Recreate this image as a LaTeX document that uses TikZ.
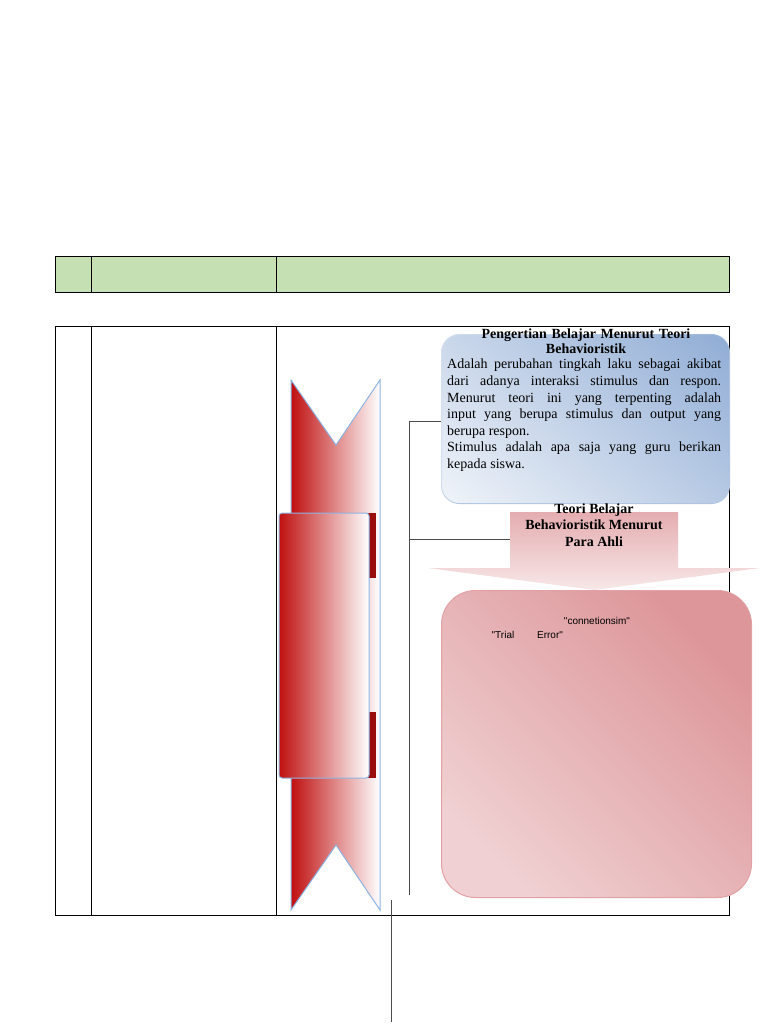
\documentclass[tikz,border=0pt]{standalone}
\usepackage{fontspec}
\setmainfont{Liberation Serif}
\newfontfamily\arialf{Liberation Sans}
\definecolor{hdr}{HTML}{C5E0B3}
\definecolor{rib}{HTML}{C01010}
\definecolor{ribedge}{HTML}{8EB4E3}
\definecolor{bluebox}{HTML}{7FA0CF}
\definecolor{pinkbox}{HTML}{D98A8E}
\newcommand{\sline}[1]{\makebox[274pt][s]{#1}}
\tikzset{
  grid/.style={draw=black, line width=0.6pt},
  conn/.style={draw=black!70, line width=0.8pt},
  ribbon/.style={left color=rib, right color=white, draw=ribedge, line width=1pt},
  smalltxt/.style={font=\arialf\fontsize{10}{11}\selectfont},
}
\begin{document}
\begin{tikzpicture}[x=1pt,y=-1pt]
\useasboundingbox (0,0) rectangle (768,1024);
% header row
\path[grid, fill=hdr] (55,256) rectangle (729,292);
\draw[grid] (91,256) -- (91,292) (276,256) -- (276,292);
% body
\draw[grid] (55,326) rectangle (729,915);
\draw[grid] (91,326) -- (91,915) (276,326) -- (276,915);
% ribbon back strip
\path[ribbon] (291,380) -- (336,445) -- (380,380) -- (380,910) -- (336,845) -- (291,910) -- cycle;
% folds
\fill[rib!80!black] (364,513) rectangle (376,578);
\fill[rib!80!black] (364,712) rectangle (376,778);
% ribbon front
\path[ribbon, rounded corners=3] (279,513) rectangle (369,778);
% connectors
\coordinate (v1) at (409,421); \coordinate (v2) at (409,895);
\coordinate (h2) at (409,539);
\coordinate (l1) at (391,900); \coordinate (l2) at (391,1022);
% blue box
\node[draw=bluebox!60, line width=1pt, rounded corners=18, minimum width=288, minimum height=169, anchor=north west,
  top color=bluebox!75!white, bottom color=white!80!bluebox,
  inner sep=0] (blue) at (441,334) {};
\shade[rounded corners=18, left color=white, right color=bluebox, opacity=0.45] (441,334) rectangle (729,503);
\draw[conn] (blue.west |- v1) -- (v1) -- (v2);
\draw[conn] (l1) -- (l2);
\node[font=\bfseries\fontsize{14}{15}\selectfont, align=center, text width=280] (bt) at (586,341) {Pengertian Belajar Menurut Teori\\Behavioristik};
\node[font=\fontsize{14}{16.6}\selectfont, align=left, anchor=north west, inner sep=0] (btx) at (447,359)
{\sline{Adalah perubahan tingkah laku sebagai akibat}\\
 \sline{dari adanya interaksi stimulus dan respon.}\\
 \sline{Menurut teori ini yang terpenting adalah}\\
 \sline{input yang berupa stimulus dan output yang}\\
 berupa respon.\\
 \sline{Stimulus adalah apa saja yang guru berikan}\\
 kepada siswa.};
% arrow
\path[top color=pinkbox!70!white, bottom color=pinkbox!20!white] (510,512) -- (678,512) -- (678,568) -- (760,568) -- (594,590) -- (428,568) -- (510,568) -- cycle;
\coordinate (arrw) at (510,539);
\draw[conn] (h2) -- (arrw);
\node[font=\bfseries\fontsize{14}{16.5}\selectfont, align=center] (at) at (594,525) {Teori Belajar\\Behavioristik Menurut\\Para Ahli};
% pink box
\node[draw=pinkbox!80, line width=1pt, rounded corners=34, minimum width=310, minimum height=307, anchor=north west,
  inner sep=0, left color=pinkbox!40!white, right color=pinkbox!90!white, shading angle=135] (pink) at (441,590) {};
\node[smalltxt] (c1) at (597,621) {"connetionsim"};
\node[smalltxt] (c2) at (503,635) {"Trial};
\node[smalltxt] (c3) at (550,635) {Error"};
\end{tikzpicture}
\end{document}
